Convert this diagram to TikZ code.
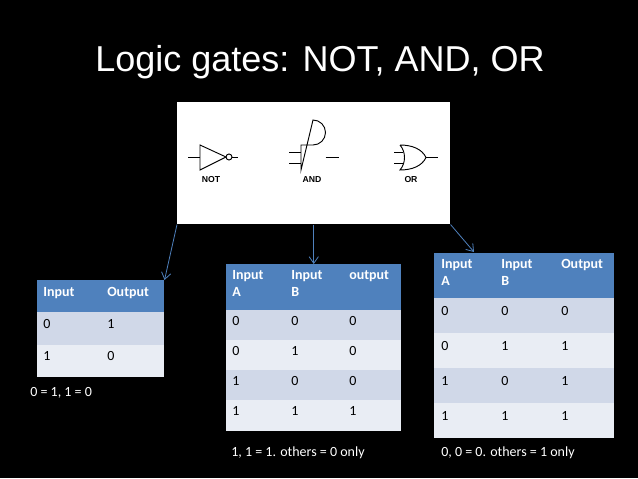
\documentclass[tikz,border=0pt]{standalone}
\usetikzlibrary{arrows.meta}
\usepackage{fontspec}
\setmainfont{Carlito}
\newfontfamily\titlefont{Liberation Sans}
\newfontfamily\gatefont{Liberation Sans}
\definecolor{hdr}{HTML}{4F81BD}
\definecolor{rowa}{HTML}{D0D8E8}
\definecolor{rowb}{HTML}{E9EDF4}
\begin{document}
\begin{tikzpicture}[x=0.75pt,y=-0.75pt,
  cell/.style={anchor=north west,inner sep=0pt,font=\fontsize{10.5}{12.5}\selectfont,align=left},
  hcell/.style={cell,text=white,font=\bfseries\fontsize{10.5}{12.5}\selectfont},
  conn/.style={draw=hdr,line width=0.6pt,-{Straight Barb[length=5pt,width=7pt]}},
  gate/.style={line width=0.7pt},
  glabel/.style={font=\gatefont\bfseries\fontsize{6.5}{7}\selectfont}]
\fill[black] (0,0) rectangle (638,478);
\useasboundingbox (0,0) rectangle (638,478);
\node[text=white,font=\titlefont\fontsize{27}{30}\selectfont] (title) at (320,62) {Logic gates: NOT, AND, OR};
% image box
\node[fill=white,draw=none,minimum width=273*0.75pt,minimum height=122*0.75pt,inner sep=0pt,anchor=north west] (img) at (177,102) {};
% NOT gate
\draw[gate] (188,157) -- (200,157);
\draw[gate] (200,145) -- (200,170) -- (226,157) -- cycle;
\draw[gate] (229,157) circle (3);
\draw[gate] (232,157) -- (238,157);
\node[glabel] (lnot) at (211,180) {NOT};
% AND gate
\draw[gate] (289,152) -- (301,152) (289,163) -- (301,163);
\draw[gate] (301,145) -- (313,145) arc (90:-90:12.5) -- (301,170) -- cycle;
\draw[gate] (325.5,157.5) -- (339,157.5);
\node[glabel] (land) at (312,180) {AND};
% OR gate
\draw[gate] (394,152) -- (403,152) (394,163) -- (403,163);
\draw[gate] (400,145) .. controls (406,152) and (406,163) .. (400,170)
  .. controls (412,170) and (422,166) .. (426,157.5)
  .. controls (422,149) and (412,145) .. (400,145);
\draw[gate] (426,157.5) -- (438,157.5);
\node[glabel] (lor) at (411,180) {OR};
% table 1
\fill[hdr] (37,280) rectangle (164,312);
\fill[rowa] (37,312) rectangle (164,345);
\fill[rowb] (37,345) rectangle (164,377);
\node[inner sep=0pt,minimum width=127*0.75pt,minimum height=97*0.75pt,anchor=north west] (t1) at (37,280) {};
\node[hcell] at (43,287) {Input};
\node[hcell] at (107,287) {Output};
\node[cell] at (43,319) {0}; \node[cell] at (107,319) {1};
\node[cell] at (43,351) {1}; \node[cell] at (107,351) {0};
\node[cell,text=white] (c1) at (30,387) {0 = 1, 1 = 0};
% table 2
\fill[hdr] (226,264) rectangle (401,310);
\foreach \y/\c in {310/rowa,340/rowb,370/rowa,400/rowb}{\fill[\c] (226,\y) rectangle (401,\y+30.5);}
\node[inner sep=0pt,minimum width=175*0.75pt,minimum height=167*0.75pt,anchor=north west] (t2) at (226,264) {};
\node[hcell] at (232,270) {Input\\A};
\node[hcell] at (291,270) {Input\\B};
\node[hcell] at (349,270) {output};
\foreach \a/\b/\o [count=\i from 0] in {0/0/0,0/1/0,1/0/0,1/1/1}{
  \node[cell] at (232,316+30*\i) {\a};
  \node[cell] at (291,316+30*\i) {\b};
  \node[cell] at (349,316+30*\i) {\o};}
\node[cell,text=white] (c2) at (231,447) {1, 1 = 1. others = 0 only};
% table 3
\fill[hdr] (434,253) rectangle (614,298);
\foreach \y/\c in {298/rowa,333/rowb,368/rowa,403/rowb}{\fill[\c] (434,\y) rectangle (614,\y+34.5);}
\node[inner sep=0pt,minimum width=180*0.75pt,minimum height=184*0.75pt,anchor=north west] (t3) at (434,253) {};
\node[hcell] at (441,259) {Input\\A};
\node[hcell] at (501,259) {Input\\B};
\node[hcell] at (561,259) {Output};
\foreach \a/\b/\o [count=\i from 0] in {0/0/0,0/1/1,1/0/1,1/1/1}{
  \node[cell] at (441,306+35*\i) {\a};
  \node[cell] at (501,306+35*\i) {\b};
  \node[cell] at (561,306+35*\i) {\o};}
\node[cell,text=white] (c3) at (441,447) {0, 0 = 0. others = 1 only};
% connectors
\coordinate (e3) at (474,252);
\draw[conn] (img.south west) -- (t1.north east);
\draw[conn] (img.south) -- (t2.north -| img.south);
\draw[conn] (img.south east) -- (e3);
\end{tikzpicture}
\end{document}
